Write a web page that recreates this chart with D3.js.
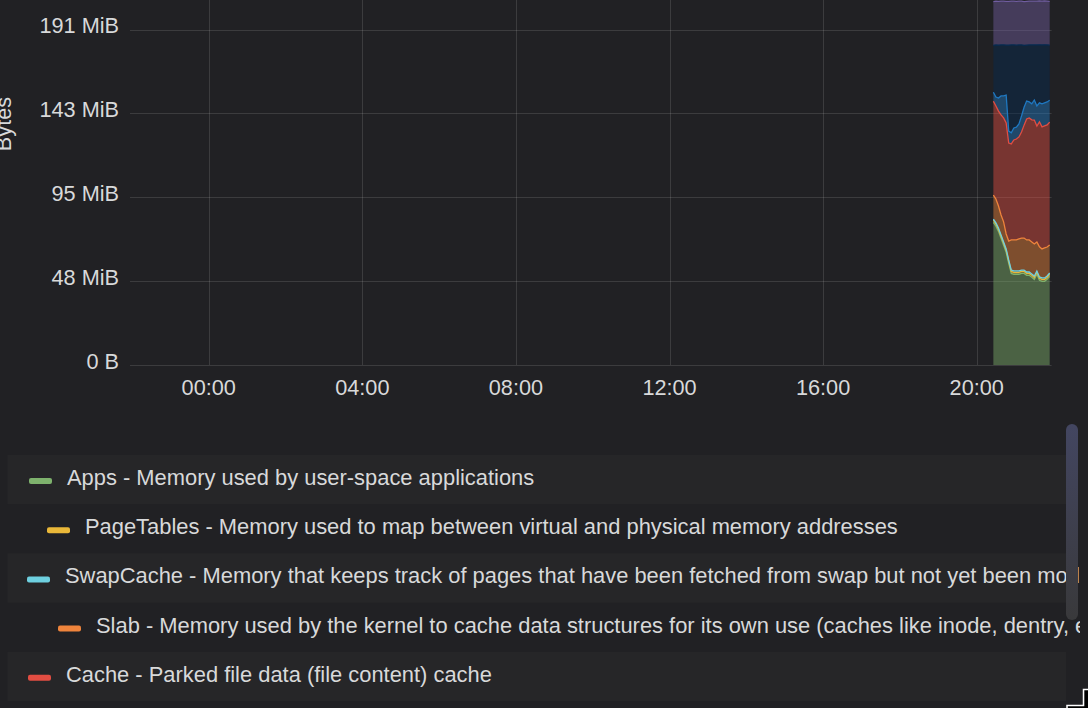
<!DOCTYPE html>
<html>
<head>
<meta charset="utf-8">
<script src="https://cdn.jsdelivr.net/npm/d3@7"></script>
<style>
  html, body { margin: 0; padding: 0; background: #212124; overflow: hidden; }
  svg { display: block; font-family: "Liberation Sans", Arial, sans-serif; }
</style>
</head>
<body>
<svg id="chart" width="1088" height="708"></svg>
<script>
// Sample times (UTC, last 90 minutes of the 24h window).
const times = ["20:26", "20:30", "20:34", "20:38", "20:42", "20:46", "20:50", "20:54",
  "20:58", "21:02", "21:06", "21:10", "21:14", "21:18", "21:22", "21:26", "21:30",
  "21:34", "21:38", "21:42", "21:46", "21:50", "21:54"];

// Series values in MiB.
const apps = [81.1, 78.9, 76.0, 72.0, 68.1, 64.1, 57.8, 52.1, 51.6, 51.6, 51.6, 52.1,
  52.1, 51.0, 51.0, 49.9, 48.7, 51.6, 48.2, 47.6, 47.6, 48.7, 50.4];
const pageTables = [1.3, 1.3, 1.2, 1.2, 1.2, 1.2, 1.1, 1.1, 1.1, 1.1, 1.1, 1.1,
  1.1, 1.1, 1.1, 1.1, 1.1, 1.1, 1.1, 1.1, 1.1, 1.1, 1.1];
const swapCache = [0.6, 0.6, 0.7, 0.7, 0.7, 0.7, 0.8, 0.8, 0.8, 0.8, 0.8, 0.8,
  0.8, 0.8, 0.8, 0.8, 0.8, 0.8, 0.8, 0.8, 0.8, 0.8, 0.8];
const slab = [13.6, 13.6, 12.5, 11.4, 11.4, 8.5, 10.8, 17.1, 17.6, 17.6, 18.2, 18.2,
  18.2, 18.2, 18.2, 18.2, 18.2, 16.5, 17.1, 16.5, 17.1, 16.5, 15.9];
const cache = [53.4, 52.9, 54.0, 56.9, 59.1, 63.1, 55.7, 54.6, 56.9, 57.4, 58.0, 60.3,
  64.2, 68.8, 69.4, 69.4, 70.5, 65.9, 71.1, 69.4, 69.4, 69.4, 69.9];
const buffers = [5.1, 5.1, 7.4, 10.8, 12.5, 15.9, 6.8, 6.3, 6.8, 6.8, 7.4, 9.1,
  10.2, 10.2, 9.1, 9.1, 11.4, 11.4, 10.8, 13.1, 13.1, 13.1, 12.5];
const unused = [26.7, 29.6, 30.1, 29.0, 29.0, 28.4, 48.9, 50.0, 47.2, 46.6, 44.9, 40.4,
  35.2, 31.8, 32.4, 33.5, 31.3, 34.7, 33.0, 33.5, 33.0, 32.4, 31.3];
const swap = [24.9, 24.9, 24.9, 24.9, 24.9, 24.9, 24.9, 24.9, 24.9, 24.9, 24.9, 24.9,
  24.9, 24.9, 24.9, 24.9, 24.9, 24.9, 24.9, 24.9, 24.9, 24.9, 24.9];

// Series names, legend labels and colours (stack order, bottom first).
const seriesKeys = ["apps", "pageTables", "swapCache", "slab", "cache", "buffers", "unused", "swap"];
const seriesLabels = [
  "Apps - Memory used by user-space applications",
  "PageTables - Memory used to map between virtual and physical memory addresses",
  "SwapCache - Memory that keeps track of pages that have been fetched from swap but not yet been modified",
  "Slab - Memory used by the kernel to cache data structures for its own use (caches like inode, dentry, etc)",
  "Cache - Parked file data (file content) cache",
  "Buffers - Block device (e.g. harddisk) cache",
  "Unused - Free memory unassigned",
  "Swap - Swap space used"
];
const seriesColors = ["#7EB26D", "#EAB839", "#6ED0E0", "#EF843C", "#E24D42", "#1F78C1", "#052B51", "#705DA0"];

// Axis ticks (bytes) and window.
const yTicks = [0, 50e6, 100e6, 150e6, 200e6];
const windowStart = "2021-01-01T21:57:00Z";
const windowEnd = "2021-01-02T21:57:00Z";

// Legend row indents (as laid out in the panel).
const legendIndent = [29, 47, 27, 58, 28, 30, 30, 30];

const MiB = 1048576;
const fontSize = 21.7;
const legendFontSize = 21.9;
const svg = d3.select("#chart");

// Build table for d3.stack
const values = { apps, pageTables, swapCache, slab, cache, buffers, unused, swap };
const table = times.map(function(t, i) {
  const row = { time: new Date("2021-01-02T" + t + ":00Z") };
  seriesKeys.forEach(function(k) { row[k] = values[k][i] * MiB; });
  return row;
});
const stacked = d3.stack().keys(seriesKeys)(table);

// Scales
const x = d3.scaleUtc()
  .domain([new Date(windowStart), new Date(windowEnd)])
  .range([130, 1051.6]);
const yMax = d3.max(stacked[stacked.length - 1], function(d) { return d[1]; });
const y = d3.scaleLinear().domain([0, yMax]).range([365, 1]);

const gridColor = "rgba(255,255,255,0.12)";
const textColor = "#d8d9da";

// Gridlines
const xTicks = x.ticks(d3.utcHour.every(4));
svg.append("g").selectAll("line")
  .data(yTicks)
  .enter().append("line")
  .attr("x1", 130).attr("x2", 1051.6)
  .attr("y1", function(d) { return Math.round(y(d)) + 0.5; })
  .attr("y2", function(d) { return Math.round(y(d)) + 0.5; })
  .attr("stroke", gridColor);
svg.append("g").selectAll("line")
  .data(xTicks)
  .enter().append("line")
  .attr("x1", function(d) { return Math.round(x(d)) + 0.5; })
  .attr("x2", function(d) { return Math.round(x(d)) + 0.5; })
  .attr("y1", 0).attr("y2", 365)
  .attr("stroke", gridColor);

// Tick labels
svg.append("g").selectAll("text")
  .data(yTicks)
  .enter().append("text")
  .attr("x", 119)
  .attr("y", function(d) { return y(d) + 3.5; })
  .attr("text-anchor", "end")
  .attr("font-size", fontSize)
  .attr("fill", textColor)
  .text(function(d) { return d === 0 ? "0 B" : Math.round(d / MiB) + " MiB"; });
svg.append("g").selectAll("text")
  .data(xTicks)
  .enter().append("text")
  .attr("x", function(d) { return x(d); })
  .attr("y", 395)
  .attr("text-anchor", "middle")
  .attr("font-size", fontSize)
  .attr("fill", textColor)
  .text(d3.utcFormat("%H:%M"));

// Y axis label (partly outside the panel, as in the dashboard)
svg.append("text")
  .attr("transform", "translate(11,124) rotate(-90)")
  .attr("text-anchor", "middle")
  .attr("font-size", fontSize)
  .attr("fill", textColor)
  .text("Bytes");

// Stacked areas
svg.append("clipPath").attr("id", "plotClip")
  .append("rect").attr("x", 130).attr("y", 0).attr("width", 921.6).attr("height", 366);
const plot = svg.append("g").attr("clip-path", "url(#plotClip)");
const area = d3.area()
  .x(function(d) { return x(d.data.time); })
  .y0(function(d) { return y(d[0]); })
  .y1(function(d) { return y(d[1]); });
const line = d3.line()
  .x(function(d) { return x(d.data.time); })
  .y(function(d) { return y(d[1]); });
plot.selectAll("path.area")
  .data(stacked)
  .enter().append("path")
  .attr("class", "area")
  .attr("d", area)
  .attr("fill", function(d, i) { return seriesColors[i]; })
  .attr("fill-opacity", 0.45);
plot.selectAll("path.line")
  .data(stacked)
  .enter().append("path")
  .attr("class", "line")
  .attr("d", line)
  .attr("fill", "none")
  .attr("stroke", function(d, i) { return seriesColors[i]; })
  .attr("stroke-width", 1.3);

// Legend
const rowH = 49.2;
svg.append("clipPath").attr("id", "legendClip")
  .append("rect").attr("x", 0).attr("y", 420).attr("width", 1080).attr("height", 284);
const legend = svg.append("g").attr("clip-path", "url(#legendClip)");
const rows = legend.selectAll("g.row")
  .data(seriesLabels)
  .enter().append("g")
  .attr("class", "row")
  .attr("transform", function(d, i) { return "translate(0," + (455 + i * rowH) + ")"; });
rows.append("rect")
  .attr("x", 7.5).attr("y", 0)
  .attr("width", 1058.5).attr("height", rowH)
  .attr("fill", function(d, i) { return i % 2 === 0 ? "#262628" : "none"; });
rows.append("rect")
  .attr("x", function(d, i) { return legendIndent[i]; })
  .attr("y", 23).attr("width", 23).attr("height", 6).attr("rx", 2)
  .attr("fill", function(d, i) { return seriesColors[i]; });
rows.append("text")
  .attr("x", function(d, i) { return legendIndent[i] + 38; })
  .attr("y", 30)
  .attr("font-size", legendFontSize)
  .attr("fill", textColor)
  .text(function(d) { return d; });

// Scrollbar
const grad = svg.append("defs").append("linearGradient")
  .attr("id", "scrollGrad").attr("x1", 0).attr("y1", 0).attr("x2", 0).attr("y2", 1);
grad.append("stop").attr("offset", "0%").attr("stop-color", "#434661");
grad.append("stop").attr("offset", "100%").attr("stop-color", "#39393b");
svg.append("rect")
  .attr("x", 1066).attr("y", 424).attr("width", 12).attr("height", 196).attr("rx", 6)
  .attr("fill", "url(#scrollGrad)");

// Resize corner
svg.append("path")
  .attr("d", "M1068,708 V706 H1084.5 V690 H1088 V708 Z")
  .attr("fill", "#000");
svg.append("path")
  .attr("d", "M1067,708 V705.5 H1083.5 V689.5 H1088")
  .attr("fill", "none").attr("stroke", "#fff").attr("stroke-width", 1.5);
</script>
</body>
</html>
